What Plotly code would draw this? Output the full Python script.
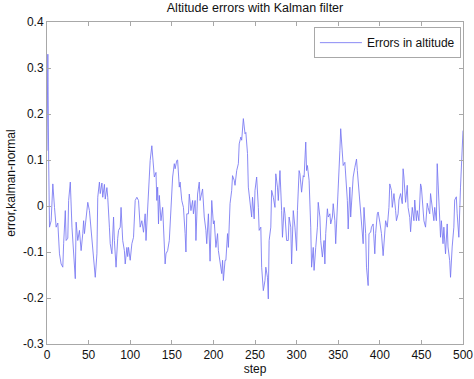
import plotly.graph_objects as go

# step positions
steps = [0, 1, 2, 3, 5, 7, 9, 11, 13, 15, 17, 19, 20, 22, 23, 25, 26, 28, 30, 32, 34, 35, 37, 39, 41, 43, 44, 45, 47, 49,
         51, 54, 56, 58, 60, 61, 63, 64, 66, 67, 69, 70, 72, 73, 75, 76, 78, 80, 81, 83, 85, 86, 88, 89, 91, 93, 94, 96, 97,
         98, 100, 102, 104, 106, 108, 110, 112, 114, 116, 118, 119, 121, 123, 124, 126, 127, 129, 131, 132, 133, 134, 135,
         137, 139, 140, 142, 143, 145, 147, 148, 150, 151, 153, 154, 156, 157, 159, 160, 162, 164, 166, 167, 168, 170, 171,
         173, 175, 176, 178, 179, 181, 183, 184, 186, 187, 189, 191, 192, 194, 196, 198, 200, 201,
         203, 205, 206, 208, 210, 211, 212, 214, 215, 217, 218, 220, 222, 223, 225, 226, 228, 230, 231, 233, 234, 236, 238,
         239, 241, 242, 244, 246, 247, 249, 250, 252, 254, 255, 257, 258, 260, 262, 263, 265, 266, 267, 269, 270, 272, 274,
         275, 277, 278, 280, 282, 283, 285, 286, 288, 290, 291, 293, 294, 296, 298, 300, 301, 303,
         304, 306, 308, 309, 311, 312, 313, 315, 317, 318, 320, 321, 323, 325, 326, 328, 329, 331, 333, 334, 335, 337, 338,
         340, 341, 343, 344, 346, 347, 349, 351, 352, 353, 355, 356, 358, 360, 361, 362, 364, 365, 367, 368, 370, 372, 373,
         375, 376, 378, 380, 381, 383, 384, 386, 387, 389, 390, 392, 394, 395, 397, 398, 400,
         402, 404, 406, 407, 409, 411, 412, 414, 415, 417, 419, 420, 422, 423, 425, 427, 428, 429, 431, 433, 434, 436, 437,
         439, 441, 442, 444, 445, 447, 449, 450, 452, 453, 455, 457, 458, 460, 461, 463, 465, 466, 468, 469, 471, 473, 474,
         476, 477, 479, 481, 482, 484, 485, 487, 489, 490, 492, 493, 495, 497, 498, 500]

# altitude error values
errors = [0.12, 0.33, 0.10, -0.046, -0.032, 0.048, -0.003, -0.046, -0.037, -0.104, -0.126, -0.133, -0.082, -0.01, -0.075,
          -0.07, 0.012, 0.052, -0.046, -0.104, -0.158, -0.035, -0.075, -0.053, -0.097, -0.06, -0.032, -0.06, -0.024, 0.008,
          -0.01, -0.075, -0.111, -0.155, -0.104, 0.019, 0.052, 0.027, 0.05, 0.019, 0.047, 0.015, 0.04, 0.019, -0.046, -0.082,
          -0.104, -0.024, -0.075, -0.133, -0.07, -0.053, -0.046, -0.003, -0.075, -0.097, -0.126, -0.09, -0.11,
          -0.09, -0.118, -0.082, -0.068, 0.012, 0.019, 0.012, -0.046, -0.032, -0.057, -0.017, -0.075, -0.003, 0.048, 0.099,
          0.131, 0.106, 0.063, 0.073, 0.012, 0.041, -0.039, 0.023, -0.032, -0.003, -0.06, -0.126, -0.104, -0.097, -0.075,
          -0.039, 0.005, 0.063, 0.092, 0.081, 0.099, 0.1, 0.041, 0.052, 0.012, -0.003, -0.06, -0.1, -0.017, -0.017, 0.026,
          -0.01, 0.012, -0.017, 0.012, -0.075, 0.026, 0.052, 0.012, 0.034, 0.037, -0.024, -0.053, -0.082, -0.017, -0.12,
          0.012, -0.039, -0.032,
          -0.09, -0.06, -0.097, -0.126, -0.147, -0.118, -0.162, -0.118, -0.118, -0.06, -0.09, 0.005, 0.034, 0.066, 0.056,
          0.045, 0.077, 0.092, 0.135, 0.15, 0.143, 0.19, 0.157, 0.16, 0.114, 0.041, 0.012, -0.024, 0.019, -0.028, 0.034,
          0.063, -0.003, -0.053, -0.046, -0.133, -0.184, -0.162, -0.133, -0.155, -0.202, -0.075, -0.046, 0.034, 0.019,
          -0.003, 0.07, 0.041, 0.012, 0.077, -0.01, -0.068, -0.003, -0.017, -0.075, -0.075, -0.024, -0.046, -0.126, -0.01,
          -0.046, -0.097, -0.01, 0.077,
          0.07, 0.030, 0.066, 0.063, 0.139, 0.077, 0.088, 0.056, -0.046, -0.133, -0.09, -0.14, -0.09, -0.046, 0.008, -0.024,
          -0.075, -0.111, -0.075, -0.126, -0.06, -0.006, -0.024, -0.017, -0.039, -0.024, 0.005, -0.032, -0.082, -0.01,
          0.084, 0.12, 0.168, 0.12, 0.088, 0.095, 0.048, 0.012, -0.05, 0.041, -0.024, 0.026, 0.063, 0.084, 0.102, 0.077,
          0.026, 0.012, -0.032, -0.082, -0.003, -0.06, -0.133, -0.173, -0.06, -0.057, -0.046, -0.039, -0.104, -0.06,
          -0.017, -0.013, -0.035,
          -0.06, -0.108, -0.068, -0.032, -0.046, -0.003, 0.048, 0.034, -0.003, 0.027, -0.01, -0.032, -0.017, 0.013, 0.027,
          0.005, 0.081, 0.063, 0.008, 0.045, -0.003, -0.025, -0.056, -0.003, -0.032, 0.013, -0.032, -0.01, -0.032, 0.048,
          0.041, -0.017, -0.032, -0.046, 0.006, -0.003, -0.017, 0.027, -0.003, -0.032, -0.003, -0.032, 0.092, -0.003,
          -0.068, -0.032, -0.082, -0.046, -0.104, -0.039, -0.089, -0.119, -0.155, -0.089, -0.046, 0.013, 0.02, -0.017,
          -0.068, 0.041, 0.084, 0.164]

x_ticks = [0, 50, 100, 150, 200, 250, 300, 350, 400, 450, 500]
y_ticks = [-0.3, -0.2, -0.1, 0, 0.1, 0.2, 0.3, 0.4]
y_ticktext = ["-0.3", "-0.2", "-0.1", "0", "0.1", "0.2", "0.3", "0.4"]

FONT = "Liberation Sans, Arial, sans-serif"

fig = go.Figure()
fig.add_trace(go.Scatter(x=steps, y=errors, mode="lines", name="Errors in altitude",
                         line=dict(color="#7676f2", width=0.85)))

axis_common = dict(showgrid=False, zeroline=False, showline=True, linecolor="#a8a8a8", linewidth=1,
                   mirror="ticks", ticks="inside", ticklen=4, tickcolor="#a8a8a8", automargin=False,
                   tickfont=dict(family=FONT, size=12, color="#111"))

fig.update_layout(
    width=474, height=379,
    margin=dict(l=47, r=11, t=22, b=35),
    paper_bgcolor="white", plot_bgcolor="white",
    font=dict(family=FONT, size=12, color="#111"),
    title=dict(text="Altitude errors with Kalman filter", xref="paper", x=0.5, xanchor="center",
               yref="container", y=0.992, yanchor="top",
               font=dict(family=FONT, size=12.5, color="#111")),
    showlegend=True,
    legend=dict(x=0.995, y=0.984, xanchor="right", yanchor="top", bgcolor="white",
                bordercolor="#a8a8a8", borderwidth=1, font=dict(family=FONT, size=12, color="#111"),
                itemwidth=42, tracegroupgap=0),
    xaxis=dict(range=[0, 500], tickvals=x_ticks, ticktext=[str(v) for v in x_ticks],
               title=dict(text="step", standoff=2, font=dict(family=FONT, size=12)), **axis_common),
    yaxis=dict(range=[-0.3, 0.4], tickvals=y_ticks, ticktext=y_ticktext,
               title=dict(text="error,kalman-normal", standoff=4, font=dict(family=FONT, size=12)), **axis_common),
)

fig.write_html("out.html", config={"displayModeBar": False},
               post_script="document.body.style.margin='0';")
